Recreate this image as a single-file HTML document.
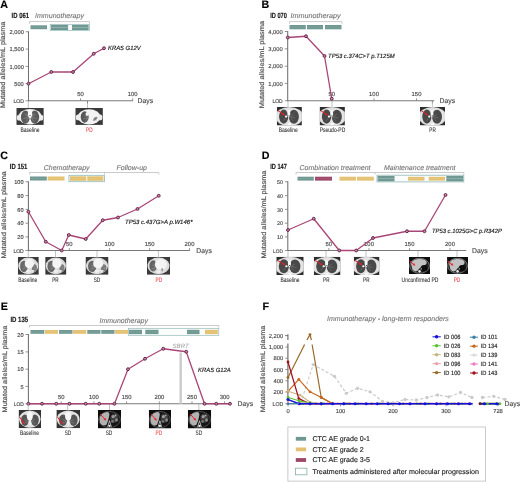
<!DOCTYPE html>
<html lang="en"><head><meta charset="utf-8"><title>Figure</title>
<style>
html,body{margin:0;padding:0;background:#fff;}
body{width:520px;height:482px;overflow:hidden;font-family:"Liberation Sans",sans-serif;}
svg{display:block;}
text{text-rendering:geometricPrecision;}
</style></head><body>
<svg width="520" height="482" viewBox="0 0 520 482" font-family="&quot;Liberation Sans&quot;, sans-serif">
<defs><filter id="bl" x="-10%" y="-10%" width="120%" height="120%"><feGaussianBlur stdDeviation="1.6 2.2"/></filter></defs>
<rect width="520" height="482" fill="#fff"/>
<text x="0.3" y="8.299999999999999" font-size="10.7" fill="#000" font-weight="bold" stroke="#000" stroke-width="0.14">A</text>
<text x="11.5" y="18.1" font-size="7.6" fill="#151515" font-weight="bold" textLength="17.6" lengthAdjust="spacingAndGlyphs" stroke="#151515" stroke-width="0.14">ID 061</text>
<text x="35" y="18" font-size="7.0" fill="#7a7a7a" font-style="italic" textLength="49" lengthAdjust="spacingAndGlyphs" stroke="#7a7a7a" stroke-width="0.14">Immunotherapy</text>
<path d="M29.5 23.8V21.6H89.5V23.8" fill="none" stroke="#b4b4b4" stroke-width="0.7"/>
<rect x="30.50" y="25.30" width="16.50" height="3.90" fill="#6f9892" />
<line x1="30.90" y1="27.25" x2="46.60" y2="27.25" stroke="#fff" stroke-opacity="0.28" stroke-width="0.6" stroke-dasharray="1 0.6"/>
<rect x="50.20" y="24.30" width="39.20" height="6.30" fill="#fbfdfd" stroke="#8fb8b4" stroke-width="0.7" />
<rect x="51.00" y="24.90" width="17.10" height="5.10" fill="#6f9892" />
<line x1="51.40" y1="27.45" x2="67.70" y2="27.45" stroke="#fff" stroke-opacity="0.28" stroke-width="0.6" stroke-dasharray="1 0.6"/>
<rect x="72.00" y="24.90" width="16.60" height="5.10" fill="#6f9892" />
<line x1="72.40" y1="27.45" x2="88.20" y2="27.45" stroke="#fff" stroke-opacity="0.28" stroke-width="0.6" stroke-dasharray="1 0.6"/>
<line x1="51" y1="27.4" x2="68.1" y2="27.4" stroke="#a9c6c2" stroke-width="0.5" />
<line x1="72" y1="27.4" x2="88.6" y2="27.4" stroke="#a9c6c2" stroke-width="0.5" />
<text x="5.4" y="64.8" font-size="6.7" fill="#555" text-anchor="middle" textLength="86.2" lengthAdjust="spacingAndGlyphs" transform="rotate(-90 5.4 64.8)" stroke="#555" stroke-width="0.2">Mutated alleles/mL plasma</text>
<line x1="28.5" y1="31.35" x2="28.5" y2="101.25" stroke="#6e6e6e" stroke-width="1.05" />
<line x1="25.6" y1="31.75" x2="28.5" y2="31.75" stroke="#787878" stroke-width="0.8" />
<text x="23.8" y="33.85" font-size="5.7" fill="#474747" text-anchor="end" stroke="#474747" stroke-width="0.14">2,000</text>
<line x1="25.6" y1="49.1" x2="28.5" y2="49.1" stroke="#787878" stroke-width="0.8" />
<text x="23.8" y="51.2" font-size="5.7" fill="#474747" text-anchor="end" stroke="#474747" stroke-width="0.14">1,500</text>
<line x1="25.6" y1="66.4" x2="28.5" y2="66.4" stroke="#787878" stroke-width="0.8" />
<text x="23.8" y="68.5" font-size="5.7" fill="#474747" text-anchor="end" stroke="#474747" stroke-width="0.14">1,000</text>
<line x1="25.6" y1="83.6" x2="28.5" y2="83.6" stroke="#787878" stroke-width="0.8" />
<text x="23.8" y="85.69999999999999" font-size="5.7" fill="#474747" text-anchor="end" stroke="#474747" stroke-width="0.14">500</text>
<line x1="25.6" y1="100.75" x2="28.5" y2="100.75" stroke="#787878" stroke-width="0.8" />
<text x="23.8" y="102.75" font-size="5.4" fill="#474747" text-anchor="end" textLength="10.2" lengthAdjust="spacingAndGlyphs" stroke="#474747" stroke-width="0.14">LOD</text>
<line x1="28.0" y1="100.75" x2="133" y2="100.75" stroke="#787878" stroke-width="1.1" />
<line x1="80.5" y1="98.35" x2="80.5" y2="100.75" stroke="#787878" stroke-width="0.8" />
<text x="80.5" y="95.95" font-size="5.9" fill="#474747" text-anchor="middle" stroke="#474747" stroke-width="0.14">50</text>
<line x1="132.7" y1="98.35" x2="132.7" y2="100.75" stroke="#787878" stroke-width="0.8" />
<text x="132.7" y="95.95" font-size="5.9" fill="#474747" text-anchor="middle" stroke="#474747" stroke-width="0.14">100</text>
<text x="137.5" y="103" font-size="7.0" fill="#4c4c4c" textLength="15.6" lengthAdjust="spacingAndGlyphs" stroke="#4c4c4c" stroke-width="0.14">Days</text>
<polyline points="28.5,83.75 51.25,72 73,72 93.75,53.75 104,48.25" fill="none" stroke="#aa4577" stroke-width="1.3" stroke-linejoin="round"/>
<circle cx="28.5" cy="83.75" r="1.45" fill="#b98fa6" stroke="#6e1d4a" stroke-width="0.95"/>
<circle cx="51.25" cy="72" r="1.45" fill="#b98fa6" stroke="#6e1d4a" stroke-width="0.95"/>
<circle cx="73" cy="72" r="1.45" fill="#b98fa6" stroke="#6e1d4a" stroke-width="0.95"/>
<circle cx="93.75" cy="53.75" r="1.45" fill="#b98fa6" stroke="#6e1d4a" stroke-width="0.95"/>
<circle cx="104" cy="48.25" r="1.45" fill="#b98fa6" stroke="#6e1d4a" stroke-width="0.95"/>
<text x="108" y="50.4" font-size="6.15" fill="#141414" font-style="italic" textLength="32.6" lengthAdjust="spacingAndGlyphs" stroke="#141414" stroke-width="0.14">KRAS G12V</text>
<line x1="28.3" y1="101" x2="28.3" y2="108" stroke="#9a9a9a" stroke-width="0.6" />
<line x1="87.5" y1="101" x2="87.5" y2="108" stroke="#9a9a9a" stroke-width="0.6" />
<line x1="87.5" y1="100.75" x2="87.5" y2="103.5" stroke="#787878" stroke-width="0.8" />
<svg x="16.30" y="108.00" width="27.50" height="16.90" viewBox="0 0 100 100" preserveAspectRatio="none" overflow="hidden"><rect width="100" height="100" fill="#3a3a3a"/><g filter="url(#bl)"><ellipse cx="50" cy="52" rx="42" ry="46" fill="#f3f3f3" /><ellipse cx="10" cy="57" rx="8" ry="17" fill="#ededed" /><ellipse cx="90" cy="57" rx="8" ry="17" fill="#ededed" /><ellipse cx="33" cy="54" rx="16" ry="39" fill="#5a5a5a" /><ellipse cx="67" cy="54" rx="16" ry="39" fill="#5a5a5a" /><ellipse cx="50" cy="36" rx="7.5" ry="24" fill="#fbfbfb" /><ellipse cx="50" cy="82" rx="4" ry="12" fill="#f3f3f3" /><path d="M44 50L32 38M44 56L28 62M45 60L36 80M56 50L68 38M56 56L72 62M55 60L64 80M40 48L40 30M60 48L60 30" stroke="#a2a2a2" stroke-width="2.2" fill="none" stroke-linecap="round"/><ellipse cx="50" cy="45" rx="2" ry="3" fill="#222" /></g></svg>
<svg x="75.30" y="108.00" width="27.60" height="16.90" viewBox="0 0 100 100" preserveAspectRatio="none" overflow="hidden"><rect width="100" height="100" fill="#3a3a3a"/><g filter="url(#bl)"><ellipse cx="50" cy="52" rx="41" ry="45" fill="#f3f3f3" /><ellipse cx="10" cy="56" rx="8" ry="17" fill="#ededed" /><ellipse cx="90" cy="56" rx="8" ry="17" fill="#ededed" /><ellipse cx="34" cy="53" rx="14.5" ry="34" fill="#565656" /><ellipse cx="43" cy="36" rx="6" ry="12" fill="#f0f0f0" /><path d="M44 54L34 46M44 58L30 64M44 60L38 78" stroke="#9c9c9c" stroke-width="2.2" fill="none" stroke-linecap="round"/><ellipse cx="72" cy="64" rx="5.5" ry="13" fill="#8a8a8a" transform="rotate(28 72 64)"/><path d="M70 56L75 72" stroke="#666" stroke-width="2" fill="none" stroke-linecap="round"/></g></svg>
<text x="30" y="132.3" font-size="6.5" fill="#222" text-anchor="middle" textLength="19" lengthAdjust="spacingAndGlyphs" stroke="#222" stroke-width="0.05">Baseline</text>
<text x="89.3" y="132.3" font-size="6.5" fill="#e23a3f" text-anchor="middle" textLength="6.5" lengthAdjust="spacingAndGlyphs" stroke="#e23a3f" stroke-width="0.05">PD</text>
<text x="261.4" y="8.299999999999999" font-size="10.7" fill="#000" font-weight="bold" stroke="#000" stroke-width="0.14">B</text>
<text x="270.2" y="17.900000000000002" font-size="7.6" fill="#151515" font-weight="bold" textLength="16.7" lengthAdjust="spacingAndGlyphs" stroke="#151515" stroke-width="0.14">ID 070</text>
<text x="290.5" y="18" font-size="7.0" fill="#7a7a7a" font-style="italic" textLength="50" lengthAdjust="spacingAndGlyphs" stroke="#7a7a7a" stroke-width="0.14">Immunotherapy</text>
<path d="M289.5 23.8V21.6H342V23.8" fill="none" stroke="#b4b4b4" stroke-width="0.7"/>
<rect x="289.50" y="25.00" width="16.30" height="4.30" fill="#6f9892" />
<line x1="289.90" y1="27.15" x2="305.40" y2="27.15" stroke="#fff" stroke-opacity="0.28" stroke-width="0.6" stroke-dasharray="1 0.6"/>
<rect x="307.00" y="25.00" width="16.00" height="4.30" fill="#6f9892" />
<line x1="307.40" y1="27.15" x2="322.60" y2="27.15" stroke="#fff" stroke-opacity="0.28" stroke-width="0.6" stroke-dasharray="1 0.6"/>
<rect x="325.00" y="25.00" width="16.50" height="4.30" fill="#6f9892" />
<line x1="325.40" y1="27.15" x2="341.10" y2="27.15" stroke="#fff" stroke-opacity="0.28" stroke-width="0.6" stroke-dasharray="1 0.6"/>
<text x="264.5" y="64.6" font-size="6.7" fill="#555" text-anchor="middle" textLength="87.2" lengthAdjust="spacingAndGlyphs" transform="rotate(-90 264.5 64.6)" stroke="#555" stroke-width="0.2">Mutated alleles/mL plasma</text>
<line x1="287.7" y1="31.1" x2="287.7" y2="101.25" stroke="#6e6e6e" stroke-width="1.05" />
<line x1="284.8" y1="31.5" x2="287.7" y2="31.5" stroke="#787878" stroke-width="0.8" />
<text x="282.7" y="33.6" font-size="5.8" fill="#474747" text-anchor="end" stroke="#474747" stroke-width="0.14">4,000</text>
<line x1="284.8" y1="48.8" x2="287.7" y2="48.8" stroke="#787878" stroke-width="0.8" />
<text x="282.7" y="50.9" font-size="5.8" fill="#474747" text-anchor="end" stroke="#474747" stroke-width="0.14">3,000</text>
<line x1="284.8" y1="66.2" x2="287.7" y2="66.2" stroke="#787878" stroke-width="0.8" />
<text x="282.7" y="68.3" font-size="5.8" fill="#474747" text-anchor="end" stroke="#474747" stroke-width="0.14">2,000</text>
<line x1="284.8" y1="83.4" x2="287.7" y2="83.4" stroke="#787878" stroke-width="0.8" />
<text x="282.7" y="85.5" font-size="5.8" fill="#474747" text-anchor="end" stroke="#474747" stroke-width="0.14">1,000</text>
<line x1="284.8" y1="100.75" x2="287.7" y2="100.75" stroke="#787878" stroke-width="0.8" />
<text x="282.7" y="102.75" font-size="5.5" fill="#474747" text-anchor="end" textLength="10.2" lengthAdjust="spacingAndGlyphs" stroke="#474747" stroke-width="0.14">LOD</text>
<line x1="287.5" y1="100.75" x2="434.3" y2="100.75" stroke="#787878" stroke-width="1.1" />
<line x1="331.75" y1="98.35" x2="331.75" y2="100.75" stroke="#787878" stroke-width="0.8" />
<text x="331.75" y="95.95" font-size="5.9" fill="#474747" text-anchor="middle" stroke="#474747" stroke-width="0.14">50</text>
<line x1="374" y1="98.35" x2="374" y2="100.75" stroke="#787878" stroke-width="0.8" />
<text x="374" y="95.95" font-size="5.9" fill="#474747" text-anchor="middle" stroke="#474747" stroke-width="0.14">100</text>
<line x1="416.5" y1="98.35" x2="416.5" y2="100.75" stroke="#787878" stroke-width="0.8" />
<text x="416.5" y="95.95" font-size="5.9" fill="#474747" text-anchor="middle" stroke="#474747" stroke-width="0.14">150</text>
<line x1="432.4" y1="100.75" x2="432.4" y2="103.4" stroke="#787878" stroke-width="0.8" />
<text x="439.5" y="103" font-size="7.0" fill="#4c4c4c" textLength="15.6" lengthAdjust="spacingAndGlyphs" stroke="#4c4c4c" stroke-width="0.14">Days</text>
<polyline points="287.8,37.5 306,36.25 324.5,56 331.75,98.75" fill="none" stroke="#aa4577" stroke-width="1.3" stroke-linejoin="round"/>
<circle cx="287.8" cy="37.5" r="1.45" fill="#b98fa6" stroke="#6e1d4a" stroke-width="0.95"/>
<circle cx="306" cy="36.25" r="1.45" fill="#b98fa6" stroke="#6e1d4a" stroke-width="0.95"/>
<circle cx="324.5" cy="56" r="1.45" fill="#b98fa6" stroke="#6e1d4a" stroke-width="0.95"/>
<circle cx="331.75" cy="98.75" r="1.45" fill="#b98fa6" stroke="#6e1d4a" stroke-width="0.95"/>
<text x="328.1" y="58.0" font-size="6.15" fill="#141414" font-style="italic" textLength="66.5" lengthAdjust="spacingAndGlyphs" stroke="#141414" stroke-width="0.14">TP53 c.374C&gt;T p.T125M</text>
<line x1="288" y1="101" x2="288" y2="107" stroke="#9a9a9a" stroke-width="0.6" />
<line x1="332" y1="101" x2="332" y2="107" stroke="#9a9a9a" stroke-width="0.6" />
<line x1="432.4" y1="101" x2="432.4" y2="107" stroke="#9a9a9a" stroke-width="0.6" />
<svg x="276.80" y="107.00" width="25.10" height="18.50" viewBox="0 0 100 100" preserveAspectRatio="none" overflow="hidden"><rect width="100" height="100" fill="#2e2e2e"/><g filter="url(#bl)"><ellipse cx="50" cy="52" rx="56" ry="52" fill="#dadada" /><ellipse cx="50" cy="52" rx="50" ry="47" fill="#e4e4e4" /><ellipse cx="27.5" cy="52" rx="18.5" ry="38" fill="#4a4a4a" /><ellipse cx="68" cy="53" rx="20" ry="38" fill="#4a4a4a" /><ellipse cx="48" cy="36" rx="5.5" ry="20" fill="#f8f8f8" /><ellipse cx="37" cy="52" rx="4.5" ry="6" fill="#fcfcfc" /><ellipse cx="49" cy="48" rx="2.2" ry="3" fill="#1a1a1a" /><ellipse cx="50" cy="93" rx="7" ry="6" fill="#fafafa" /><path d="M56 50L66 42M56 54L72 58M55 58L64 74M34 60L28 72" stroke="#858585" stroke-width="2" fill="none" stroke-linecap="round"/></g></svg>
<path d="M278.06 110.70L283.10 114.15" stroke="#ee1c25" stroke-width="1.0" fill="none"/>
<path d="M285.08 115.51L282.12 115.06L283.59 112.91z" fill="#ee1c25"/>
<svg x="319.60" y="107.00" width="25.30" height="18.50" viewBox="0 0 100 100" preserveAspectRatio="none" overflow="hidden"><rect width="100" height="100" fill="#2e2e2e"/><g filter="url(#bl)"><ellipse cx="50" cy="52" rx="56" ry="52" fill="#dadada" /><ellipse cx="50" cy="52" rx="50" ry="47" fill="#e4e4e4" /><ellipse cx="27.5" cy="52" rx="18.5" ry="38" fill="#4a4a4a" /><ellipse cx="68" cy="53" rx="20" ry="38" fill="#4a4a4a" /><ellipse cx="48" cy="36" rx="5.5" ry="20" fill="#f8f8f8" /><ellipse cx="37" cy="52" rx="4.5" ry="6" fill="#fcfcfc" /><ellipse cx="49" cy="48" rx="2.2" ry="3" fill="#1a1a1a" /><ellipse cx="50" cy="93" rx="7" ry="6" fill="#fafafa" /><path d="M56 50L66 42M56 54L72 58M55 58L64 74M34 60L28 72" stroke="#858585" stroke-width="2" fill="none" stroke-linecap="round"/></g></svg>
<path d="M320.87 110.70L325.96 114.16" stroke="#ee1c25" stroke-width="1.0" fill="none"/>
<path d="M327.95 115.51L324.98 115.07L326.45 112.92z" fill="#ee1c25"/>
<svg x="420.00" y="107.00" width="25.00" height="18.50" viewBox="0 0 100 100" preserveAspectRatio="none" overflow="hidden"><rect width="100" height="100" fill="#2e2e2e"/><g filter="url(#bl)"><ellipse cx="50" cy="52" rx="56" ry="52" fill="#dadada" /><ellipse cx="50" cy="52" rx="50" ry="47" fill="#e4e4e4" /><ellipse cx="27.5" cy="52" rx="18.5" ry="38" fill="#4a4a4a" /><ellipse cx="68" cy="53" rx="20" ry="38" fill="#4a4a4a" /><ellipse cx="48" cy="36" rx="5.5" ry="20" fill="#f8f8f8" /><ellipse cx="37" cy="52" rx="4.5" ry="6" fill="#fcfcfc" /><ellipse cx="49" cy="48" rx="2.2" ry="3" fill="#1a1a1a" /><ellipse cx="50" cy="93" rx="7" ry="6" fill="#fafafa" /><path d="M56 50L66 42M56 54L72 58M55 58L64 74M34 60L28 72" stroke="#858585" stroke-width="2" fill="none" stroke-linecap="round"/></g></svg>
<path d="M421.25 110.70L426.27 114.15" stroke="#ee1c25" stroke-width="1.0" fill="none"/>
<path d="M428.25 115.51L425.29 115.05L426.76 112.91z" fill="#ee1c25"/>
<text x="288.3" y="132.3" font-size="6.5" fill="#222" text-anchor="middle" textLength="19" lengthAdjust="spacingAndGlyphs" stroke="#222" stroke-width="0.05">Baseline</text>
<text x="332.5" y="132.3" font-size="6.5" fill="#222" text-anchor="middle" textLength="25.5" lengthAdjust="spacingAndGlyphs" stroke="#222" stroke-width="0.05">Pseudo-PD</text>
<text x="432.6" y="132.3" font-size="6.5" fill="#222" text-anchor="middle" textLength="6.5" lengthAdjust="spacingAndGlyphs" stroke="#222" stroke-width="0.05">PR</text>
<text x="0.3" y="159.0" font-size="10.7" fill="#000" font-weight="bold" stroke="#000" stroke-width="0.14">C</text>
<text x="9.799999999999999" y="169.29999999999998" font-size="7.6" fill="#151515" font-weight="bold" textLength="17.6" lengthAdjust="spacingAndGlyphs" stroke="#151515" stroke-width="0.14">ID 151</text>
<text x="43.8" y="169.5" font-size="7.0" fill="#7a7a7a" font-style="italic" textLength="45.7" lengthAdjust="spacingAndGlyphs" stroke="#7a7a7a" stroke-width="0.14">Chemotherapy</text>
<text x="116.5" y="169.5" font-size="7.0" fill="#7a7a7a" font-style="italic" textLength="30.5" lengthAdjust="spacingAndGlyphs" stroke="#7a7a7a" stroke-width="0.14">Follow-up</text>
<path d="M29.5 174.5V172.5H158.8V174.5M104.5 172.5V174.5" fill="none" stroke="#b4b4b4" stroke-width="0.7"/>
<rect x="30.00" y="176.50" width="16.80" height="4.00" fill="#6f9892" />
<line x1="30.40" y1="178.50" x2="46.40" y2="178.50" stroke="#fff" stroke-opacity="0.28" stroke-width="0.6" stroke-dasharray="1 0.6"/>
<rect x="47.60" y="176.50" width="16.90" height="4.00" fill="#e3c170" />
<line x1="48.00" y1="178.50" x2="64.10" y2="178.50" stroke="#fff" stroke-opacity="0.28" stroke-width="0.6" stroke-dasharray="1 0.6"/>
<rect x="68.90" y="175.30" width="35.60" height="6.40" fill="#fbfdfd" stroke="#8fb8b4" stroke-width="0.8" />
<rect x="70.00" y="176.30" width="16.30" height="4.50" fill="#e3c170" />
<line x1="70.40" y1="178.55" x2="85.90" y2="178.55" stroke="#fff" stroke-opacity="0.28" stroke-width="0.6" stroke-dasharray="1 0.6"/>
<rect x="87.30" y="176.30" width="16.10" height="4.50" fill="#e3c170" />
<line x1="87.70" y1="178.55" x2="103.00" y2="178.55" stroke="#fff" stroke-opacity="0.28" stroke-width="0.6" stroke-dasharray="1 0.6"/>
<text x="5.8" y="215" font-size="6.7" fill="#555" text-anchor="middle" textLength="87.2" lengthAdjust="spacingAndGlyphs" transform="rotate(-90 5.8 215)" stroke="#555" stroke-width="0.2">Mutated alleles/mL plasma</text>
<line x1="28.4" y1="181.35" x2="28.4" y2="251.0" stroke="#6e6e6e" stroke-width="1.05" />
<line x1="25.5" y1="181.75" x2="28.4" y2="181.75" stroke="#787878" stroke-width="0.8" />
<text x="23.599999999999998" y="183.85" font-size="5.6" fill="#474747" text-anchor="end" stroke="#474747" stroke-width="0.14">100</text>
<line x1="25.5" y1="195.6" x2="28.4" y2="195.6" stroke="#787878" stroke-width="0.8" />
<text x="23.599999999999998" y="197.7" font-size="5.6" fill="#474747" text-anchor="end" stroke="#474747" stroke-width="0.14">80</text>
<line x1="25.5" y1="209.4" x2="28.4" y2="209.4" stroke="#787878" stroke-width="0.8" />
<text x="23.599999999999998" y="211.5" font-size="5.6" fill="#474747" text-anchor="end" stroke="#474747" stroke-width="0.14">60</text>
<line x1="25.5" y1="223.2" x2="28.4" y2="223.2" stroke="#787878" stroke-width="0.8" />
<text x="23.599999999999998" y="225.29999999999998" font-size="5.6" fill="#474747" text-anchor="end" stroke="#474747" stroke-width="0.14">40</text>
<line x1="25.5" y1="236.9" x2="28.4" y2="236.9" stroke="#787878" stroke-width="0.8" />
<text x="23.599999999999998" y="239.0" font-size="5.6" fill="#474747" text-anchor="end" stroke="#474747" stroke-width="0.14">20</text>
<line x1="25.5" y1="250.5" x2="28.4" y2="250.5" stroke="#787878" stroke-width="0.8" />
<text x="23.599999999999998" y="252.5" font-size="5.3" fill="#474747" text-anchor="end" textLength="10.2" lengthAdjust="spacingAndGlyphs" stroke="#474747" stroke-width="0.14">LOD</text>
<line x1="27.9" y1="250.5" x2="189.8" y2="250.5" stroke="#787878" stroke-width="1.1" />
<line x1="69.3" y1="248.1" x2="69.3" y2="250.5" stroke="#787878" stroke-width="0.8" />
<text x="69.3" y="245.7" font-size="5.9" fill="#474747" text-anchor="middle" stroke="#474747" stroke-width="0.14">50</text>
<line x1="109.5" y1="248.1" x2="109.5" y2="250.5" stroke="#787878" stroke-width="0.8" />
<text x="109.5" y="245.7" font-size="5.9" fill="#474747" text-anchor="middle" stroke="#474747" stroke-width="0.14">100</text>
<line x1="149.6" y1="248.1" x2="149.6" y2="250.5" stroke="#787878" stroke-width="0.8" />
<text x="149.6" y="245.7" font-size="5.9" fill="#474747" text-anchor="middle" stroke="#474747" stroke-width="0.14">150</text>
<line x1="189.5" y1="248.1" x2="189.5" y2="250.5" stroke="#787878" stroke-width="0.8" />
<text x="189.5" y="245.7" font-size="5.9" fill="#474747" text-anchor="middle" stroke="#474747" stroke-width="0.14">200</text>
<text x="196.3" y="252.7" font-size="7.0" fill="#4c4c4c" textLength="15.6" lengthAdjust="spacingAndGlyphs" stroke="#4c4c4c" stroke-width="0.14">Days</text>
<polyline points="28.4,211.75 45.75,241.75 61.75,250.5 68.75,235 85.75,239 102.75,220.25 118,217.5 137.5,209 158.75,195.75" fill="none" stroke="#aa4577" stroke-width="1.3" stroke-linejoin="round"/>
<circle cx="28.4" cy="211.75" r="1.45" fill="#b98fa6" stroke="#6e1d4a" stroke-width="0.95"/>
<circle cx="45.75" cy="241.75" r="1.45" fill="#b98fa6" stroke="#6e1d4a" stroke-width="0.95"/>
<circle cx="61.75" cy="250.5" r="1.45" fill="#b98fa6" stroke="#6e1d4a" stroke-width="0.95"/>
<circle cx="68.75" cy="235" r="1.45" fill="#b98fa6" stroke="#6e1d4a" stroke-width="0.95"/>
<circle cx="85.75" cy="239" r="1.45" fill="#b98fa6" stroke="#6e1d4a" stroke-width="0.95"/>
<circle cx="102.75" cy="220.25" r="1.45" fill="#b98fa6" stroke="#6e1d4a" stroke-width="0.95"/>
<circle cx="118" cy="217.5" r="1.45" fill="#b98fa6" stroke="#6e1d4a" stroke-width="0.95"/>
<circle cx="137.5" cy="209" r="1.45" fill="#b98fa6" stroke="#6e1d4a" stroke-width="0.95"/>
<circle cx="158.75" cy="195.75" r="1.45" fill="#b98fa6" stroke="#6e1d4a" stroke-width="0.95"/>
<text x="125" y="224" font-size="6.15" fill="#141414" font-style="italic" textLength="67.5" lengthAdjust="spacingAndGlyphs" stroke="#141414" stroke-width="0.14">TP53 c.437G&gt;A p.W146*</text>
<line x1="28.3" y1="251" x2="28.3" y2="257" stroke="#9a9a9a" stroke-width="0.6" />
<line x1="55.5" y1="251" x2="55.5" y2="257" stroke="#9a9a9a" stroke-width="0.6" />
<line x1="97" y1="251" x2="97" y2="257" stroke="#9a9a9a" stroke-width="0.6" />
<line x1="158.4" y1="251" x2="158.4" y2="257" stroke="#9a9a9a" stroke-width="0.6" />
<svg x="17.80" y="256.90" width="21.00" height="17.90" viewBox="0 0 100 100" preserveAspectRatio="none" overflow="hidden"><rect width="100" height="100" fill="#3a3a3a"/><g filter="url(#bl)"><ellipse cx="50" cy="50" rx="48" ry="47" fill="#dcdcdc" /><ellipse cx="29" cy="53" rx="18" ry="32" fill="#686868" /><ellipse cx="79" cy="62" rx="12" ry="21" fill="#7a7a7a" /><ellipse cx="55" cy="38" rx="22" ry="27" fill="#f4f4f4" /><ellipse cx="50" cy="80" rx="10" ry="9" fill="#f0f0f0" /><ellipse cx="72" cy="78" rx="7" ry="5" fill="#efefef" /><path d="M38 56L26 50M38 62L24 68M80 56L84 70" stroke="#a5a5a5" stroke-width="2.2" fill="none" stroke-linecap="round"/></g></svg>
<svg x="45.20" y="256.90" width="21.20" height="17.90" viewBox="0 0 100 100" preserveAspectRatio="none" overflow="hidden"><rect width="100" height="100" fill="#3a3a3a"/><g filter="url(#bl)"><ellipse cx="50" cy="50" rx="48" ry="47" fill="#dcdcdc" /><ellipse cx="29" cy="53" rx="18" ry="32" fill="#686868" /><ellipse cx="79" cy="62" rx="12" ry="21" fill="#7a7a7a" /><ellipse cx="55" cy="38" rx="22" ry="27" fill="#f4f4f4" /><ellipse cx="50" cy="80" rx="10" ry="9" fill="#f0f0f0" /><ellipse cx="72" cy="78" rx="7" ry="5" fill="#efefef" /><path d="M38 56L26 50M38 62L24 68M80 56L84 70" stroke="#a5a5a5" stroke-width="2.2" fill="none" stroke-linecap="round"/></g></svg>
<svg x="85.50" y="256.90" width="23.00" height="17.90" viewBox="0 0 100 100" preserveAspectRatio="none" overflow="hidden"><rect width="100" height="100" fill="#3a3a3a"/><g filter="url(#bl)"><ellipse cx="50" cy="50" rx="48" ry="47" fill="#dcdcdc" /><ellipse cx="29" cy="53" rx="18" ry="32" fill="#686868" /><ellipse cx="79" cy="62" rx="12" ry="21" fill="#7a7a7a" /><ellipse cx="55" cy="38" rx="22" ry="27" fill="#f4f4f4" /><ellipse cx="50" cy="80" rx="10" ry="9" fill="#f0f0f0" /><ellipse cx="72" cy="78" rx="7" ry="5" fill="#efefef" /><path d="M38 56L26 50M38 62L24 68M80 56L84 70" stroke="#a5a5a5" stroke-width="2.2" fill="none" stroke-linecap="round"/></g></svg>
<svg x="147.00" y="256.90" width="23.00" height="17.90" viewBox="0 0 100 100" preserveAspectRatio="none" overflow="hidden"><rect width="100" height="100" fill="#3a3a3a"/><g filter="url(#bl)"><ellipse cx="50" cy="50" rx="48" ry="47" fill="#dedede" /><ellipse cx="27" cy="50" rx="17" ry="31" fill="#646464" /><ellipse cx="60" cy="42" rx="26" ry="30" fill="#f4f4f4" /><ellipse cx="66" cy="72" rx="4" ry="10" fill="#999" /><ellipse cx="50" cy="82" rx="9" ry="8" fill="#f0f0f0" /><path d="M36 54L24 46M36 60L22 66M34 64L28 76" stroke="#a0a0a0" stroke-width="2.2" fill="none" stroke-linecap="round"/></g></svg>
<text x="27.8" y="281.7" font-size="6.5" fill="#222" text-anchor="middle" textLength="19" lengthAdjust="spacingAndGlyphs" stroke="#222" stroke-width="0.05">Baseline</text>
<text x="55.5" y="281.7" font-size="6.5" fill="#222" text-anchor="middle" textLength="6.5" lengthAdjust="spacingAndGlyphs" stroke="#222" stroke-width="0.05">PR</text>
<text x="97" y="281.7" font-size="6.5" fill="#222" text-anchor="middle" textLength="6.5" lengthAdjust="spacingAndGlyphs" stroke="#222" stroke-width="0.05">SD</text>
<text x="158.8" y="281.7" font-size="6.5" fill="#e23a3f" text-anchor="middle" textLength="6.5" lengthAdjust="spacingAndGlyphs" stroke="#e23a3f" stroke-width="0.05">PD</text>
<text x="261.7" y="158.79999999999998" font-size="10.7" fill="#000" font-weight="bold" stroke="#000" stroke-width="0.14">D</text>
<text x="270.2" y="169.29999999999998" font-size="7.6" fill="#151515" font-weight="bold" textLength="16.7" lengthAdjust="spacingAndGlyphs" stroke="#151515" stroke-width="0.14">ID 147</text>
<text x="299.5" y="169.5" font-size="7.0" fill="#7a7a7a" font-style="italic" textLength="71" lengthAdjust="spacingAndGlyphs" stroke="#7a7a7a" stroke-width="0.14">Combination treatment</text>
<text x="384" y="169.5" font-size="7.0" fill="#7a7a7a" font-style="italic" textLength="71.5" lengthAdjust="spacingAndGlyphs" stroke="#7a7a7a" stroke-width="0.14">Maintenance treatment</text>
<path d="M296 174.5V172.5H463.8V174.5M375 172.5V174.5" fill="none" stroke="#b4b4b4" stroke-width="0.7"/>
<rect x="297.50" y="176.70" width="16.30" height="3.90" fill="#6f9892" />
<line x1="297.90" y1="178.65" x2="313.40" y2="178.65" stroke="#fff" stroke-opacity="0.28" stroke-width="0.6" stroke-dasharray="1 0.6"/>
<rect x="315.00" y="176.70" width="17.00" height="3.90" fill="#9d4667" />
<line x1="315.40" y1="178.65" x2="331.60" y2="178.65" stroke="#fff" stroke-opacity="0.28" stroke-width="0.6" stroke-dasharray="1 0.6"/>
<rect x="339.50" y="176.70" width="16.50" height="3.90" fill="#e3c170" />
<line x1="339.90" y1="178.65" x2="355.60" y2="178.65" stroke="#fff" stroke-opacity="0.28" stroke-width="0.6" stroke-dasharray="1 0.6"/>
<rect x="357.00" y="176.70" width="16.80" height="3.90" fill="#e3c170" />
<line x1="357.40" y1="178.65" x2="373.40" y2="178.65" stroke="#fff" stroke-opacity="0.28" stroke-width="0.6" stroke-dasharray="1 0.6"/>
<rect x="377.00" y="175.20" width="86.80" height="6.70" fill="#fbfdfd" stroke="#8fb8b4" stroke-width="0.8" />
<rect x="377.60" y="176.00" width="16.90" height="5.30" fill="#6f9892" />
<line x1="378.00" y1="178.65" x2="394.10" y2="178.65" stroke="#fff" stroke-opacity="0.28" stroke-width="0.6" stroke-dasharray="1 0.6"/>
<rect x="408.00" y="176.80" width="16.50" height="3.80" fill="#e3c170" />
<line x1="408.40" y1="178.70" x2="424.10" y2="178.70" stroke="#fff" stroke-opacity="0.28" stroke-width="0.6" stroke-dasharray="1 0.6"/>
<rect x="428.70" y="176.80" width="16.30" height="3.80" fill="#e3c170" />
<line x1="429.10" y1="178.70" x2="444.60" y2="178.70" stroke="#fff" stroke-opacity="0.28" stroke-width="0.6" stroke-dasharray="1 0.6"/>
<rect x="446.30" y="176.00" width="16.90" height="5.30" fill="#6f9892" />
<line x1="446.70" y1="178.65" x2="462.80" y2="178.65" stroke="#fff" stroke-opacity="0.28" stroke-width="0.6" stroke-dasharray="1 0.6"/>
<line x1="377.6" y1="178.6" x2="394.5" y2="178.6" stroke="#a5c4bf" stroke-width="0.5" />
<line x1="446.3" y1="178.6" x2="463.2" y2="178.6" stroke="#a5c4bf" stroke-width="0.5" />
<text x="266.2" y="214.5" font-size="6.7" fill="#555" text-anchor="middle" textLength="88" lengthAdjust="spacingAndGlyphs" transform="rotate(-90 266.2 214.5)" stroke="#555" stroke-width="0.2">Mutated alleles/mL plasma</text>
<line x1="287.8" y1="181.35" x2="287.8" y2="251.0" stroke="#6e6e6e" stroke-width="1.05" />
<line x1="284.90000000000003" y1="181.75" x2="287.8" y2="181.75" stroke="#787878" stroke-width="0.8" />
<text x="282.90000000000003" y="183.85" font-size="5.4" fill="#474747" text-anchor="end" stroke="#474747" stroke-width="0.14">50</text>
<line x1="284.90000000000003" y1="195.6" x2="287.8" y2="195.6" stroke="#787878" stroke-width="0.8" />
<text x="282.90000000000003" y="197.7" font-size="5.4" fill="#474747" text-anchor="end" stroke="#474747" stroke-width="0.14">40</text>
<line x1="284.90000000000003" y1="209.4" x2="287.8" y2="209.4" stroke="#787878" stroke-width="0.8" />
<text x="282.90000000000003" y="211.5" font-size="5.4" fill="#474747" text-anchor="end" stroke="#474747" stroke-width="0.14">30</text>
<line x1="284.90000000000003" y1="223.2" x2="287.8" y2="223.2" stroke="#787878" stroke-width="0.8" />
<text x="282.90000000000003" y="225.29999999999998" font-size="5.4" fill="#474747" text-anchor="end" stroke="#474747" stroke-width="0.14">20</text>
<line x1="284.90000000000003" y1="236.9" x2="287.8" y2="236.9" stroke="#787878" stroke-width="0.8" />
<text x="282.90000000000003" y="239.0" font-size="5.4" fill="#474747" text-anchor="end" stroke="#474747" stroke-width="0.14">10</text>
<line x1="284.90000000000003" y1="250.5" x2="287.8" y2="250.5" stroke="#787878" stroke-width="0.8" />
<text x="282.90000000000003" y="252.5" font-size="5.1000000000000005" fill="#474747" text-anchor="end" textLength="9.8" lengthAdjust="spacingAndGlyphs" stroke="#474747" stroke-width="0.14">LOD</text>
<line x1="287.5" y1="250.5" x2="466.2" y2="250.5" stroke="#787878" stroke-width="1.1" />
<line x1="328.8" y1="248.1" x2="328.8" y2="250.5" stroke="#787878" stroke-width="0.8" />
<text x="328.8" y="245.7" font-size="5.9" fill="#474747" text-anchor="middle" stroke="#474747" stroke-width="0.14">50</text>
<line x1="369" y1="248.1" x2="369" y2="250.5" stroke="#787878" stroke-width="0.8" />
<text x="369" y="245.7" font-size="5.9" fill="#474747" text-anchor="middle" stroke="#474747" stroke-width="0.14">100</text>
<line x1="409.5" y1="248.1" x2="409.5" y2="250.5" stroke="#787878" stroke-width="0.8" />
<text x="409.5" y="245.7" font-size="5.9" fill="#474747" text-anchor="middle" stroke="#474747" stroke-width="0.14">150</text>
<line x1="450" y1="248.1" x2="450" y2="250.5" stroke="#787878" stroke-width="0.8" />
<text x="450" y="245.7" font-size="5.9" fill="#474747" text-anchor="middle" stroke="#474747" stroke-width="0.14">200</text>
<text x="472" y="252.7" font-size="7.0" fill="#4c4c4c" textLength="15.6" lengthAdjust="spacingAndGlyphs" stroke="#4c4c4c" stroke-width="0.14">Days</text>
<polyline points="288,230 313.75,218.75 339.25,250.5 356.25,250.5 373,238 407,231.25 424.5,231.25 445.5,195" fill="none" stroke="#aa4577" stroke-width="1.3" stroke-linejoin="round"/>
<circle cx="288" cy="230" r="1.45" fill="#b98fa6" stroke="#6e1d4a" stroke-width="0.95"/>
<circle cx="313.75" cy="218.75" r="1.45" fill="#b98fa6" stroke="#6e1d4a" stroke-width="0.95"/>
<circle cx="339.25" cy="250.5" r="1.45" fill="#b98fa6" stroke="#6e1d4a" stroke-width="0.95"/>
<circle cx="356.25" cy="250.5" r="1.45" fill="#b98fa6" stroke="#6e1d4a" stroke-width="0.95"/>
<circle cx="373" cy="238" r="1.45" fill="#b98fa6" stroke="#6e1d4a" stroke-width="0.95"/>
<circle cx="407" cy="231.25" r="1.45" fill="#b98fa6" stroke="#6e1d4a" stroke-width="0.95"/>
<circle cx="424.5" cy="231.25" r="1.45" fill="#b98fa6" stroke="#6e1d4a" stroke-width="0.95"/>
<circle cx="445.5" cy="195" r="1.45" fill="#b98fa6" stroke="#6e1d4a" stroke-width="0.95"/>
<text x="432" y="233" font-size="6.15" fill="#141414" font-style="italic" textLength="69.8" lengthAdjust="spacingAndGlyphs" stroke="#141414" stroke-width="0.14">TP53 c.1025G&gt;C p.R342P</text>
<line x1="288" y1="251" x2="288" y2="257" stroke="#9a9a9a" stroke-width="0.6" />
<line x1="326" y1="251" x2="326" y2="257" stroke="#9a9a9a" stroke-width="0.6" />
<line x1="366" y1="251" x2="366" y2="257" stroke="#9a9a9a" stroke-width="0.6" />
<line x1="418" y1="251" x2="418" y2="257" stroke="#9a9a9a" stroke-width="0.6" />
<line x1="457" y1="251" x2="457" y2="257" stroke="#9a9a9a" stroke-width="0.6" />
<svg x="276.30" y="256.80" width="27.40" height="18.20" viewBox="0 0 100 100" preserveAspectRatio="none" overflow="hidden"><rect width="100" height="100" fill="#2e2e2e"/><g filter="url(#bl)"><ellipse cx="50" cy="52" rx="56" ry="52" fill="#dadada" /><ellipse cx="50" cy="52" rx="50" ry="47" fill="#e4e4e4" /><ellipse cx="27.5" cy="52" rx="18.5" ry="38" fill="#4a4a4a" /><ellipse cx="68" cy="53" rx="20" ry="38" fill="#4a4a4a" /><ellipse cx="48" cy="36" rx="5.5" ry="20" fill="#f8f8f8" /><ellipse cx="37" cy="52" rx="4.5" ry="6" fill="#fcfcfc" /><ellipse cx="49" cy="48" rx="2.2" ry="3" fill="#1a1a1a" /><ellipse cx="50" cy="93" rx="7" ry="6" fill="#fafafa" /><path d="M56 50L66 42M56 54L72 58M55 58L64 74M34 60L28 72" stroke="#858585" stroke-width="2" fill="none" stroke-linecap="round"/></g></svg>
<path d="M277.67 260.44L283.30 263.91" stroke="#ee1c25" stroke-width="1.0" fill="none"/>
<path d="M285.34 265.17L282.36 264.86L283.73 262.65z" fill="#ee1c25"/>
<svg x="313.80" y="256.80" width="26.70" height="18.20" viewBox="0 0 100 100" preserveAspectRatio="none" overflow="hidden"><rect width="100" height="100" fill="#2e2e2e"/><g filter="url(#bl)"><ellipse cx="50" cy="52" rx="56" ry="52" fill="#dadada" /><ellipse cx="50" cy="52" rx="50" ry="47" fill="#e4e4e4" /><ellipse cx="27.5" cy="52" rx="18.5" ry="38" fill="#4a4a4a" /><ellipse cx="68" cy="53" rx="20" ry="38" fill="#4a4a4a" /><ellipse cx="48" cy="36" rx="5.5" ry="20" fill="#f8f8f8" /><ellipse cx="37" cy="52" rx="4.5" ry="6" fill="#fcfcfc" /><ellipse cx="49" cy="48" rx="2.2" ry="3" fill="#1a1a1a" /><ellipse cx="50" cy="93" rx="7" ry="6" fill="#fafafa" /><path d="M56 50L66 42M56 54L72 58M55 58L64 74M34 60L28 72" stroke="#858585" stroke-width="2" fill="none" stroke-linecap="round"/></g></svg>
<path d="M315.13 260.44L320.58 263.89" stroke="#ee1c25" stroke-width="1.0" fill="none"/>
<path d="M322.61 265.17L319.63 264.83L321.02 262.63z" fill="#ee1c25"/>
<svg x="353.80" y="256.80" width="25.70" height="18.20" viewBox="0 0 100 100" preserveAspectRatio="none" overflow="hidden"><rect width="100" height="100" fill="#2e2e2e"/><g filter="url(#bl)"><ellipse cx="50" cy="52" rx="56" ry="52" fill="#dadada" /><ellipse cx="50" cy="52" rx="50" ry="47" fill="#e4e4e4" /><ellipse cx="27.5" cy="52" rx="18.5" ry="38" fill="#4a4a4a" /><ellipse cx="68" cy="53" rx="20" ry="38" fill="#4a4a4a" /><ellipse cx="48" cy="36" rx="5.5" ry="20" fill="#f8f8f8" /><ellipse cx="37" cy="52" rx="4.5" ry="6" fill="#fcfcfc" /><ellipse cx="49" cy="48" rx="2.2" ry="3" fill="#1a1a1a" /><ellipse cx="50" cy="93" rx="7" ry="6" fill="#fafafa" /><path d="M56 50L66 42M56 54L72 58M55 58L64 74M34 60L28 72" stroke="#858585" stroke-width="2" fill="none" stroke-linecap="round"/></g></svg>
<path d="M355.09 260.44L360.28 263.85" stroke="#ee1c25" stroke-width="1.0" fill="none"/>
<path d="M362.28 265.17L359.31 264.77L360.74 262.60z" fill="#ee1c25"/>
<svg x="409.00" y="256.90" width="21.10" height="17.10" viewBox="0 0 100 100" preserveAspectRatio="none" overflow="hidden"><rect width="100" height="100" fill="#0e0e0e"/><g filter="url(#bl)"><ellipse cx="50" cy="52" rx="47" ry="44" fill="#222" stroke="#bdbdbd" stroke-width="3"/><path d="M10 42 Q14 14 45 12 Q78 10 84 30 Q86 46 62 56 Q50 62 42 80 Q30 92 16 74 Z" fill="#c2c2c2"/><ellipse cx="72" cy="66" rx="16" ry="18" fill="#0a0a0a" /><ellipse cx="50" cy="84" rx="6" ry="8" fill="#e6e6e6" /><ellipse cx="58" cy="70" rx="3" ry="6" fill="#999" /></g></svg>
<path d="M409.42 260.66L413.52 264.22" stroke="#ee1c25" stroke-width="1.0" fill="none"/>
<path d="M415.33 265.79L412.44 265.00L414.14 263.04z" fill="#ee1c25"/>
<svg x="447.10" y="256.90" width="20.90" height="17.10" viewBox="0 0 100 100" preserveAspectRatio="none" overflow="hidden"><rect width="100" height="100" fill="#0e0e0e"/><g filter="url(#bl)"><ellipse cx="50" cy="52" rx="47" ry="44" fill="#222" stroke="#bdbdbd" stroke-width="3"/><path d="M10 42 Q14 14 45 12 Q78 10 84 30 Q86 46 62 56 Q50 62 42 80 Q30 92 16 74 Z" fill="#c2c2c2"/><ellipse cx="72" cy="66" rx="16" ry="18" fill="#0a0a0a" /><ellipse cx="50" cy="84" rx="6" ry="8" fill="#e6e6e6" /><ellipse cx="58" cy="70" rx="3" ry="6" fill="#999" /></g></svg>
<path d="M447.52 260.66L451.57 264.21" stroke="#ee1c25" stroke-width="1.0" fill="none"/>
<path d="M453.37 265.79L450.48 264.99L452.20 263.03z" fill="#ee1c25"/>
<text x="290" y="281.7" font-size="6.5" fill="#222" text-anchor="middle" textLength="19" lengthAdjust="spacingAndGlyphs" stroke="#222" stroke-width="0.05">Baseline</text>
<text x="326.3" y="281.7" font-size="6.5" fill="#222" text-anchor="middle" textLength="6.5" lengthAdjust="spacingAndGlyphs" stroke="#222" stroke-width="0.05">PR</text>
<text x="366.3" y="281.7" font-size="6.5" fill="#222" text-anchor="middle" textLength="6.5" lengthAdjust="spacingAndGlyphs" stroke="#222" stroke-width="0.05">PR</text>
<text x="420" y="281.7" font-size="6.5" fill="#222" text-anchor="middle" textLength="37" lengthAdjust="spacingAndGlyphs" stroke="#222" stroke-width="0.05">Unconfirmed PD</text>
<text x="457" y="281.7" font-size="6.5" fill="#e23a3f" text-anchor="middle" textLength="6.5" lengthAdjust="spacingAndGlyphs" stroke="#e23a3f" stroke-width="0.05">PD</text>
<text x="0.7" y="309.70000000000005" font-size="10.7" fill="#000" font-weight="bold" stroke="#000" stroke-width="0.14">E</text>
<text x="10.399999999999999" y="322.1" font-size="7.6" fill="#151515" font-weight="bold" textLength="17.8" lengthAdjust="spacingAndGlyphs" stroke="#151515" stroke-width="0.14">ID 135</text>
<text x="99.5" y="322.5" font-size="7.0" fill="#7a7a7a" font-style="italic" textLength="48.5" lengthAdjust="spacingAndGlyphs" stroke="#7a7a7a" stroke-width="0.14">Immunotherapy</text>
<path d="M29.5 327.5V325.5H218.8V327.5" fill="none" stroke="#b4b4b4" stroke-width="0.7"/>
<rect x="30.50" y="330.00" width="13.80" height="3.80" fill="#6f9892" />
<line x1="30.90" y1="331.90" x2="43.90" y2="331.90" stroke="#fff" stroke-opacity="0.28" stroke-width="0.6" stroke-dasharray="1 0.6"/>
<rect x="45.00" y="330.00" width="13.00" height="3.80" fill="#e3c170" />
<line x1="45.40" y1="331.90" x2="57.60" y2="331.90" stroke="#fff" stroke-opacity="0.28" stroke-width="0.6" stroke-dasharray="1 0.6"/>
<rect x="59.00" y="330.00" width="13.50" height="3.80" fill="#6f9892" />
<line x1="59.40" y1="331.90" x2="72.10" y2="331.90" stroke="#fff" stroke-opacity="0.28" stroke-width="0.6" stroke-dasharray="1 0.6"/>
<rect x="73.00" y="330.00" width="13.30" height="3.80" fill="#e3c170" />
<line x1="73.40" y1="331.90" x2="85.90" y2="331.90" stroke="#fff" stroke-opacity="0.28" stroke-width="0.6" stroke-dasharray="1 0.6"/>
<rect x="87.30" y="330.00" width="13.20" height="3.80" fill="#6f9892" />
<line x1="87.70" y1="331.90" x2="100.10" y2="331.90" stroke="#fff" stroke-opacity="0.28" stroke-width="0.6" stroke-dasharray="1 0.6"/>
<rect x="101.30" y="330.00" width="13.20" height="3.80" fill="#6f9892" />
<line x1="101.70" y1="331.90" x2="114.10" y2="331.90" stroke="#fff" stroke-opacity="0.28" stroke-width="0.6" stroke-dasharray="1 0.6"/>
<rect x="115.00" y="330.00" width="13.00" height="3.80" fill="#e3c170" />
<line x1="115.40" y1="331.90" x2="127.60" y2="331.90" stroke="#fff" stroke-opacity="0.28" stroke-width="0.6" stroke-dasharray="1 0.6"/>
<rect x="128.50" y="328.30" width="90.30" height="7.00" fill="#fbfdfd" stroke="#8fb8b4" stroke-width="0.7" />
<rect x="129.00" y="329.80" width="13.00" height="4.30" fill="#6f9892" />
<line x1="129.40" y1="331.95" x2="141.60" y2="331.95" stroke="#fff" stroke-opacity="0.28" stroke-width="0.6" stroke-dasharray="1 0.6"/>
<rect x="145.30" y="329.80" width="13.20" height="4.30" fill="#6f9892" />
<line x1="145.70" y1="331.95" x2="158.10" y2="331.95" stroke="#fff" stroke-opacity="0.28" stroke-width="0.6" stroke-dasharray="1 0.6"/>
<rect x="187.00" y="329.80" width="12.50" height="4.30" fill="#6f9892" />
<line x1="187.40" y1="331.95" x2="199.10" y2="331.95" stroke="#fff" stroke-opacity="0.28" stroke-width="0.6" stroke-dasharray="1 0.6"/>
<rect x="205.00" y="329.80" width="12.80" height="4.30" fill="#e3c170" />
<line x1="205.40" y1="331.95" x2="217.40" y2="331.95" stroke="#fff" stroke-opacity="0.28" stroke-width="0.6" stroke-dasharray="1 0.6"/>
<text x="7.1" y="369" font-size="6.7" fill="#555" text-anchor="middle" textLength="86.8" lengthAdjust="spacingAndGlyphs" transform="rotate(-90 7.1 369)" stroke="#555" stroke-width="0.2">Mutated alleles/mL plasma</text>
<line x1="28.4" y1="334.1" x2="28.4" y2="404.25" stroke="#6e6e6e" stroke-width="1.05" />
<line x1="25.5" y1="334.5" x2="28.4" y2="334.5" stroke="#787878" stroke-width="0.8" />
<text x="23.599999999999998" y="336.6" font-size="5.6" fill="#474747" text-anchor="end" stroke="#474747" stroke-width="0.14">20</text>
<line x1="25.5" y1="351.9" x2="28.4" y2="351.9" stroke="#787878" stroke-width="0.8" />
<text x="23.599999999999998" y="354.0" font-size="5.6" fill="#474747" text-anchor="end" stroke="#474747" stroke-width="0.14">15</text>
<line x1="25.5" y1="369.2" x2="28.4" y2="369.2" stroke="#787878" stroke-width="0.8" />
<text x="23.599999999999998" y="371.3" font-size="5.6" fill="#474747" text-anchor="end" stroke="#474747" stroke-width="0.14">10</text>
<line x1="25.5" y1="386.4" x2="28.4" y2="386.4" stroke="#787878" stroke-width="0.8" />
<text x="23.599999999999998" y="388.5" font-size="5.6" fill="#474747" text-anchor="end" stroke="#474747" stroke-width="0.14">5</text>
<line x1="25.5" y1="403.75" x2="28.4" y2="403.75" stroke="#787878" stroke-width="0.8" />
<text x="23.599999999999998" y="405.75" font-size="5.3" fill="#474747" text-anchor="end" textLength="9.8" lengthAdjust="spacingAndGlyphs" stroke="#474747" stroke-width="0.14">LOD</text>
<line x1="27.9" y1="403.75" x2="230" y2="403.75" stroke="#787878" stroke-width="1.1" />
<line x1="61.2" y1="401.35" x2="61.2" y2="403.75" stroke="#787878" stroke-width="0.8" />
<text x="61.2" y="398.95" font-size="5.9" fill="#474747" text-anchor="middle" stroke="#474747" stroke-width="0.14">50</text>
<line x1="93.9" y1="401.35" x2="93.9" y2="403.75" stroke="#787878" stroke-width="0.8" />
<text x="93.9" y="398.95" font-size="5.9" fill="#474747" text-anchor="middle" stroke="#474747" stroke-width="0.14">100</text>
<line x1="126.6" y1="401.35" x2="126.6" y2="403.75" stroke="#787878" stroke-width="0.8" />
<text x="126.6" y="398.95" font-size="5.9" fill="#474747" text-anchor="middle" stroke="#474747" stroke-width="0.14">150</text>
<line x1="159.3" y1="401.35" x2="159.3" y2="403.75" stroke="#787878" stroke-width="0.8" />
<text x="159.3" y="398.95" font-size="5.9" fill="#474747" text-anchor="middle" stroke="#474747" stroke-width="0.14">200</text>
<line x1="192" y1="401.35" x2="192" y2="403.75" stroke="#787878" stroke-width="0.8" />
<text x="192" y="398.95" font-size="5.9" fill="#474747" text-anchor="middle" stroke="#474747" stroke-width="0.14">250</text>
<line x1="224.6" y1="401.35" x2="224.6" y2="403.75" stroke="#787878" stroke-width="0.8" />
<text x="224.6" y="398.95" font-size="5.9" fill="#474747" text-anchor="middle" stroke="#474747" stroke-width="0.14">300</text>
<text x="237.5" y="405.9" font-size="7.0" fill="#4c4c4c" textLength="15.6" lengthAdjust="spacingAndGlyphs" stroke="#4c4c4c" stroke-width="0.14">Days</text>
<rect x="179.40" y="352.50" width="2.60" height="51.20" fill="#cfcfcf" />
<text x="172.5" y="347.5" font-size="6.1" fill="#a0a0a0" font-style="italic" textLength="16.3" lengthAdjust="spacingAndGlyphs">SBRT</text>
<polyline points="28.4,403.75 42,403.75 56.25,403.75 69.5,403.75 85.75,403.75 99.25,403.75 114.5,403.75 128,369.25 145,358.75 163.25,348.75 186.25,351.75 204.5,403.75 216.25,403.75 230,403.75" fill="none" stroke="#aa4577" stroke-width="1.3" stroke-linejoin="round"/>
<circle cx="28.4" cy="403.75" r="1.45" fill="#b98fa6" stroke="#6e1d4a" stroke-width="0.95"/>
<circle cx="42" cy="403.75" r="1.45" fill="#b98fa6" stroke="#6e1d4a" stroke-width="0.95"/>
<circle cx="56.25" cy="403.75" r="1.45" fill="#b98fa6" stroke="#6e1d4a" stroke-width="0.95"/>
<circle cx="69.5" cy="403.75" r="1.45" fill="#b98fa6" stroke="#6e1d4a" stroke-width="0.95"/>
<circle cx="85.75" cy="403.75" r="1.45" fill="#b98fa6" stroke="#6e1d4a" stroke-width="0.95"/>
<circle cx="99.25" cy="403.75" r="1.45" fill="#b98fa6" stroke="#6e1d4a" stroke-width="0.95"/>
<circle cx="114.5" cy="403.75" r="1.45" fill="#b98fa6" stroke="#6e1d4a" stroke-width="0.95"/>
<circle cx="128" cy="369.25" r="1.45" fill="#b98fa6" stroke="#6e1d4a" stroke-width="0.95"/>
<circle cx="145" cy="358.75" r="1.45" fill="#b98fa6" stroke="#6e1d4a" stroke-width="0.95"/>
<circle cx="163.25" cy="348.75" r="1.45" fill="#b98fa6" stroke="#6e1d4a" stroke-width="0.95"/>
<circle cx="186.25" cy="351.75" r="1.45" fill="#b98fa6" stroke="#6e1d4a" stroke-width="0.95"/>
<circle cx="204.5" cy="403.75" r="1.45" fill="#b98fa6" stroke="#6e1d4a" stroke-width="0.95"/>
<circle cx="216.25" cy="403.75" r="1.45" fill="#b98fa6" stroke="#6e1d4a" stroke-width="0.95"/>
<circle cx="230" cy="403.75" r="1.45" fill="#b98fa6" stroke="#6e1d4a" stroke-width="0.95"/>
<text x="198" y="371.8" font-size="6.15" fill="#141414" font-style="italic" textLength="32.8" lengthAdjust="spacingAndGlyphs" stroke="#141414" stroke-width="0.14">KRAS G12A</text>
<line x1="28.2" y1="404" x2="28.2" y2="410" stroke="#9a9a9a" stroke-width="0.6" />
<line x1="67.6" y1="404" x2="67.6" y2="410" stroke="#9a9a9a" stroke-width="0.6" />
<line x1="109.5" y1="404" x2="109.5" y2="410" stroke="#9a9a9a" stroke-width="0.6" />
<line x1="159.4" y1="404" x2="159.4" y2="410" stroke="#9a9a9a" stroke-width="0.6" />
<line x1="198.8" y1="404" x2="198.8" y2="410" stroke="#9a9a9a" stroke-width="0.6" />
<svg x="18.60" y="410.00" width="22.40" height="18.30" viewBox="0 0 100 100" preserveAspectRatio="none" overflow="hidden"><rect width="100" height="100" fill="#343434"/><g filter="url(#bl)"><ellipse cx="50" cy="50" rx="48" ry="47" fill="#e2e2e2" /><ellipse cx="28" cy="56" rx="17" ry="31" fill="#545454" /><ellipse cx="73" cy="56" rx="17" ry="31" fill="#545454" /><ellipse cx="50" cy="34" rx="13" ry="24" fill="#f6f6f6" /><ellipse cx="50" cy="70" rx="5" ry="16" fill="#f0f0f0" /><path d="M40 60L28 52M40 64L26 72M60 60L72 52M60 64L74 72" stroke="#9a9a9a" stroke-width="2.2" fill="none" stroke-linecap="round"/></g></svg>
<path d="M19.50 416.95L23.27 422.31" stroke="#ee1c25" stroke-width="1.0" fill="none"/>
<path d="M24.65 424.27L22.03 422.81L24.16 421.32z" fill="#ee1c25"/>
<svg x="56.40" y="410.00" width="23.60" height="18.30" viewBox="0 0 100 100" preserveAspectRatio="none" overflow="hidden"><rect width="100" height="100" fill="#343434"/><g filter="url(#bl)"><ellipse cx="50" cy="50" rx="48" ry="47" fill="#e2e2e2" /><ellipse cx="28" cy="56" rx="17" ry="31" fill="#545454" /><ellipse cx="73" cy="56" rx="17" ry="31" fill="#545454" /><ellipse cx="50" cy="34" rx="13" ry="24" fill="#f6f6f6" /><ellipse cx="50" cy="70" rx="5" ry="16" fill="#f0f0f0" /><path d="M40 60L28 52M40 64L26 72M60 60L72 52M60 64L74 72" stroke="#9a9a9a" stroke-width="2.2" fill="none" stroke-linecap="round"/></g></svg>
<path d="M57.34 416.95L61.34 422.35" stroke="#ee1c25" stroke-width="1.0" fill="none"/>
<path d="M62.77 424.27L60.12 422.88L62.21 421.33z" fill="#ee1c25"/>
<svg x="97.90" y="410.00" width="23.20" height="18.40" viewBox="0 0 100 100" preserveAspectRatio="none" overflow="hidden"><rect width="100" height="100" fill="#0c0c0c"/><g filter="url(#bl)"><ellipse cx="50" cy="52" rx="47" ry="44" fill="#141414" stroke="#9a9a9a" stroke-width="2.2"/><path d="M7 52 Q8 18 38 11 Q52 10 49 30 Q46 58 37 80 Q22 92 10 72 Z" fill="#b2b2b2"/><ellipse cx="71" cy="44" rx="18" ry="25" fill="#3c3c3c" /><ellipse cx="66" cy="36" rx="7" ry="9" fill="#9c9c9c" /><ellipse cx="80" cy="54" rx="6" ry="9" fill="#8c8c8c" /><ellipse cx="63" cy="62" rx="6" ry="7" fill="#7a7a7a" /><ellipse cx="76" cy="30" rx="4" ry="5" fill="#aaa" /><path d="M50 58 L42 92 M50 58 L58 92" stroke="#e6e6e6" stroke-width="3.5" fill="none"/><ellipse cx="50" cy="86" rx="5" ry="6" fill="#efefef" /></g></svg>
<path d="M100.22 414.05L104.64 418.90" stroke="#ee1c25" stroke-width="1.0" fill="none"/>
<path d="M106.25 420.67L103.47 419.55L105.40 417.80z" fill="#ee1c25"/>
<svg x="148.80" y="410.00" width="22.20" height="18.50" viewBox="0 0 100 100" preserveAspectRatio="none" overflow="hidden"><rect width="100" height="100" fill="#0c0c0c"/><g filter="url(#bl)"><ellipse cx="50" cy="52" rx="47" ry="44" fill="#141414" stroke="#9a9a9a" stroke-width="2.2"/><path d="M7 52 Q8 18 38 11 Q52 10 49 30 Q46 58 37 80 Q22 92 10 72 Z" fill="#b2b2b2"/><ellipse cx="71" cy="44" rx="18" ry="25" fill="#3c3c3c" /><ellipse cx="66" cy="36" rx="7" ry="9" fill="#9c9c9c" /><ellipse cx="80" cy="54" rx="6" ry="9" fill="#8c8c8c" /><ellipse cx="63" cy="62" rx="6" ry="7" fill="#7a7a7a" /><ellipse cx="76" cy="30" rx="4" ry="5" fill="#aaa" /><path d="M50 58 L42 92 M50 58 L58 92" stroke="#e6e6e6" stroke-width="3.5" fill="none"/><ellipse cx="50" cy="86" rx="5" ry="6" fill="#efefef" /></g></svg>
<path d="M151.02 414.07L155.22 418.92" stroke="#ee1c25" stroke-width="1.0" fill="none"/>
<path d="M156.79 420.73L154.04 419.54L156.01 417.84z" fill="#ee1c25"/>
<svg x="187.80" y="410.00" width="23.40" height="18.50" viewBox="0 0 100 100" preserveAspectRatio="none" overflow="hidden"><rect width="100" height="100" fill="#0c0c0c"/><g filter="url(#bl)"><ellipse cx="50" cy="52" rx="47" ry="44" fill="#141414" stroke="#9a9a9a" stroke-width="2.2"/><path d="M7 52 Q8 18 38 11 Q52 10 49 30 Q46 58 37 80 Q22 92 10 72 Z" fill="#b2b2b2"/><ellipse cx="71" cy="44" rx="18" ry="25" fill="#3c3c3c" /><ellipse cx="66" cy="36" rx="7" ry="9" fill="#9c9c9c" /><ellipse cx="80" cy="54" rx="6" ry="9" fill="#8c8c8c" /><ellipse cx="63" cy="62" rx="6" ry="7" fill="#7a7a7a" /><ellipse cx="76" cy="30" rx="4" ry="5" fill="#aaa" /><path d="M50 58 L42 92 M50 58 L58 92" stroke="#e6e6e6" stroke-width="3.5" fill="none"/><ellipse cx="50" cy="86" rx="5" ry="6" fill="#efefef" /></g></svg>
<path d="M190.14 414.07L194.61 418.96" stroke="#ee1c25" stroke-width="1.0" fill="none"/>
<path d="M196.22 420.73L193.44 419.61L195.36 417.86z" fill="#ee1c25"/>
<text x="29.5" y="435.3" font-size="6.5" fill="#222" text-anchor="middle" textLength="19" lengthAdjust="spacingAndGlyphs" stroke="#222" stroke-width="0.05">Baseline</text>
<text x="68" y="435.3" font-size="6.5" fill="#222" text-anchor="middle" textLength="6.5" lengthAdjust="spacingAndGlyphs" stroke="#222" stroke-width="0.05">SD</text>
<text x="109" y="435.3" font-size="6.5" fill="#222" text-anchor="middle" textLength="6.5" lengthAdjust="spacingAndGlyphs" stroke="#222" stroke-width="0.05">SD</text>
<text x="158.8" y="435.3" font-size="6.5" fill="#e23a3f" text-anchor="middle" textLength="6.5" lengthAdjust="spacingAndGlyphs" stroke="#e23a3f" stroke-width="0.05">PD</text>
<text x="198.8" y="435.3" font-size="6.5" fill="#222" text-anchor="middle" textLength="6.5" lengthAdjust="spacingAndGlyphs" stroke="#222" stroke-width="0.05">SD</text>
<text x="262.4" y="309.70000000000005" font-size="10.7" fill="#000" font-weight="bold" stroke="#000" stroke-width="0.14">F</text>
<text x="327" y="321.3" font-size="7.0" fill="#7a7a7a" font-style="italic" textLength="121.8" lengthAdjust="spacingAndGlyphs" stroke="#7a7a7a" stroke-width="0.14">Immunotherapy - long-term responders</text>
<text x="264.6" y="369" font-size="6.7" fill="#555" text-anchor="middle" textLength="86.7" lengthAdjust="spacingAndGlyphs" transform="rotate(-90 264.6 369)" stroke="#555" stroke-width="0.2">Mutated alleles/mL plasma</text>
<line x1="287.9" y1="334.2" x2="287.9" y2="340" stroke="#707070" stroke-width="1.2" />
<line x1="287.9" y1="343.6" x2="287.9" y2="404.2" stroke="#707070" stroke-width="1.2" />
<line x1="285.0" y1="335.6" x2="287.9" y2="335.6" stroke="#707070" stroke-width="0.9" />
<text x="283.2" y="337.75" font-size="5.8" fill="#474747" text-anchor="end" stroke="#474747" stroke-width="0.14">2,200</text>
<line x1="285.29999999999995" y1="347" x2="287.9" y2="347" stroke="#787878" stroke-width="0.8" />
<text x="283.2" y="349.0" font-size="5.8" fill="#474747" text-anchor="end" stroke="#474747" stroke-width="0.14">1,000</text>
<line x1="285.29999999999995" y1="358.25" x2="287.9" y2="358.25" stroke="#787878" stroke-width="0.8" />
<text x="283.2" y="360.25" font-size="5.8" fill="#474747" text-anchor="end" stroke="#474747" stroke-width="0.14">800</text>
<line x1="285.29999999999995" y1="369.5" x2="287.9" y2="369.5" stroke="#787878" stroke-width="0.8" />
<text x="283.2" y="371.5" font-size="5.8" fill="#474747" text-anchor="end" stroke="#474747" stroke-width="0.14">600</text>
<line x1="285.29999999999995" y1="380.75" x2="287.9" y2="380.75" stroke="#787878" stroke-width="0.8" />
<text x="283.2" y="382.75" font-size="5.8" fill="#474747" text-anchor="end" stroke="#474747" stroke-width="0.14">400</text>
<line x1="285.29999999999995" y1="392" x2="287.9" y2="392" stroke="#787878" stroke-width="0.8" />
<text x="283.2" y="394.0" font-size="5.8" fill="#474747" text-anchor="end" stroke="#474747" stroke-width="0.14">200</text>
<line x1="285.29999999999995" y1="403.75" x2="287.9" y2="403.75" stroke="#787878" stroke-width="0.8" />
<text x="283.2" y="405.75" font-size="5.8" fill="#474747" text-anchor="end" textLength="10.6" lengthAdjust="spacingAndGlyphs" stroke="#474747" stroke-width="0.14">LOD</text>
<line x1="287.4" y1="403.75" x2="471.5" y2="403.75" stroke="#787878" stroke-width="1.1" />
<line x1="479" y1="403.75" x2="501" y2="403.75" stroke="#787878" stroke-width="1.1" />
<line x1="288" y1="403.75" x2="288" y2="406.3" stroke="#787878" stroke-width="0.8" />
<text x="288" y="413.4" font-size="5.8" fill="#474747" text-anchor="middle" stroke="#474747" stroke-width="0.14">0</text>
<line x1="340.5" y1="403.75" x2="340.5" y2="406.3" stroke="#787878" stroke-width="0.8" />
<text x="340.5" y="413.4" font-size="5.8" fill="#474747" text-anchor="middle" stroke="#474747" stroke-width="0.14">100</text>
<line x1="393" y1="403.75" x2="393" y2="406.3" stroke="#787878" stroke-width="0.8" />
<text x="393" y="413.4" font-size="5.8" fill="#474747" text-anchor="middle" stroke="#474747" stroke-width="0.14">200</text>
<line x1="446" y1="403.75" x2="446" y2="406.3" stroke="#787878" stroke-width="0.8" />
<text x="446" y="413.4" font-size="5.8" fill="#474747" text-anchor="middle" stroke="#474747" stroke-width="0.14">300</text>
<line x1="498" y1="403.75" x2="498" y2="406.3" stroke="#787878" stroke-width="0.8" />
<text x="498" y="413.4" font-size="5.8" fill="#474747" text-anchor="middle" stroke="#474747" stroke-width="0.14">728</text>
<text x="504.5" y="406" font-size="7.0" fill="#4c4c4c" textLength="15.6" lengthAdjust="spacingAndGlyphs" stroke="#4c4c4c" stroke-width="0.14">Days</text>
<polyline points="300.6,403.2 313.2,364.6 334.5,376.3 346.3,393.3 357.5,388.3 370,391.8 382.5,401.3 393,402.8 405,399.5 416.3,400 427,397.5 437.5,395 448.8,396.8 460.5,392.5 472,397.5" fill="none" stroke="#cbcbcb" stroke-width="1.2" stroke-linejoin="round" stroke-dasharray="3 2"/>
<circle cx="300.6" cy="403.2" r="1.65" fill="#cbcbcb"/>
<circle cx="313.2" cy="364.6" r="1.65" fill="#cbcbcb"/>
<circle cx="334.5" cy="376.3" r="1.65" fill="#cbcbcb"/>
<circle cx="346.3" cy="393.3" r="1.65" fill="#cbcbcb"/>
<circle cx="357.5" cy="388.3" r="1.65" fill="#cbcbcb"/>
<circle cx="370" cy="391.8" r="1.65" fill="#cbcbcb"/>
<circle cx="382.5" cy="401.3" r="1.65" fill="#cbcbcb"/>
<circle cx="393" cy="402.8" r="1.65" fill="#cbcbcb"/>
<circle cx="405" cy="399.5" r="1.65" fill="#cbcbcb"/>
<circle cx="416.3" cy="400" r="1.65" fill="#cbcbcb"/>
<circle cx="427" cy="397.5" r="1.65" fill="#cbcbcb"/>
<circle cx="437.5" cy="395" r="1.65" fill="#cbcbcb"/>
<circle cx="448.8" cy="396.8" r="1.65" fill="#cbcbcb"/>
<circle cx="460.5" cy="392.5" r="1.65" fill="#cbcbcb"/>
<circle cx="472" cy="397.5" r="1.65" fill="#cbcbcb"/>
<polyline points="482.5,397.5 493.8,396.3 505,399.5" fill="none" stroke="#cbcbcb" stroke-width="1.2" stroke-linejoin="round" stroke-dasharray="3 2"/>
<circle cx="482.5" cy="397.5" r="1.65" fill="#cbcbcb"/>
<circle cx="493.8" cy="396.3" r="1.65" fill="#cbcbcb"/>
<circle cx="505" cy="399.5" r="1.65" fill="#cbcbcb"/>
<polyline points="288,377.5 304.6,344.5" fill="none" stroke="#9a6828" stroke-width="1.2"/>
<polyline points="306.9,340 310,334.6 311.4,340" fill="none" stroke="#9a6828" stroke-width="1.2" stroke-linejoin="round"/>
<polyline points="312.1,344.5 321.25,397.5 332.5,403.75" fill="none" stroke="#9a6828" stroke-width="1.2" stroke-linejoin="round"/>
<circle cx="288" cy="377.5" r="1.4" fill="#9a6828"/>
<circle cx="310" cy="334.6" r="1.4" fill="#9a6828"/>
<circle cx="321.25" cy="397.5" r="1.4" fill="#9a6828"/>
<polyline points="288,391.3 298.8,379.3 310,391.8 321.3,397.5 332.5,403.5 343.8,403.75" fill="none" stroke="#c8681c" stroke-width="1.2" stroke-linejoin="round"/>
<circle cx="288" cy="391.3" r="1.4" fill="#c8681c"/>
<circle cx="298.8" cy="379.3" r="1.4" fill="#c8681c"/>
<circle cx="310" cy="391.8" r="1.4" fill="#c8681c"/>
<circle cx="321.3" cy="397.5" r="1.4" fill="#c8681c"/>
<circle cx="332.5" cy="403.5" r="1.4" fill="#c8681c"/>
<circle cx="343.8" cy="403.75" r="1.4" fill="#c8681c"/>
<polyline points="288,391.3 300,395 310.5,402.5 321.3,403.75" fill="none" stroke="#c9b680" stroke-width="1.1" stroke-linejoin="round"/>
<circle cx="288" cy="391.3" r="1.3" fill="#c9b680"/>
<circle cx="300" cy="395" r="1.3" fill="#c9b680"/>
<circle cx="310.5" cy="402.5" r="1.3" fill="#c9b680"/>
<circle cx="321.3" cy="403.75" r="1.3" fill="#c9b680"/>
<polyline points="288,362 298.8,398.6 309.8,403.75 321.3,403.75" fill="none" stroke="#a3101e" stroke-width="1.25" stroke-linejoin="round"/>
<circle cx="288" cy="362" r="1.4" fill="#a3101e"/>
<circle cx="298.8" cy="398.6" r="1.4" fill="#a3101e"/>
<circle cx="309.8" cy="403.75" r="1.4" fill="#a3101e"/>
<circle cx="321.3" cy="403.75" r="1.4" fill="#a3101e"/>
<polyline points="288,397.5 299,400.8 310,403 321.3,403.75" fill="none" stroke="#5cc232" stroke-width="1.2" stroke-linejoin="round"/>
<circle cx="288" cy="397.5" r="1.4" fill="#5cc232"/>
<circle cx="299" cy="400.8" r="1.4" fill="#5cc232"/>
<circle cx="310" cy="403" r="1.4" fill="#5cc232"/>
<circle cx="321.3" cy="403.75" r="1.4" fill="#5cc232"/>
<line x1="298" y1="403.75" x2="472.6" y2="403.75" stroke="#d98ea0" stroke-width="2.2" />
<line x1="479.3" y1="403.75" x2="500.3" y2="403.75" stroke="#7a9a40" stroke-width="2.2" />
<circle cx="302.5" cy="403.75" r="1.35" fill="#5cc232"/>
<circle cx="305.5" cy="403.75" r="1.35" fill="#f0a3a8"/>
<circle cx="316" cy="403.75" r="1.35" fill="#c8681c"/>
<circle cx="324" cy="403.75" r="1.35" fill="#5cc232"/>
<circle cx="327.5" cy="403.75" r="1.35" fill="#f07cc0"/>
<circle cx="338" cy="403.75" r="1.35" fill="#f0a3a8"/>
<circle cx="346.5" cy="403.75" r="1.35" fill="#5cc232"/>
<circle cx="349.5" cy="403.75" r="1.35" fill="#c8681c"/>
<circle cx="358" cy="403.75" r="1.35" fill="#5cc232"/>
<circle cx="361" cy="403.75" r="1.35" fill="#f0a3a8"/>
<circle cx="371.5" cy="403.75" r="1.35" fill="#9a6828"/>
<circle cx="380" cy="403.75" r="1.35" fill="#5cc232"/>
<circle cx="383" cy="403.75" r="1.35" fill="#f07cc0"/>
<circle cx="391" cy="403.75" r="1.35" fill="#5cc232"/>
<circle cx="395" cy="403.75" r="1.35" fill="#f0a3a8"/>
<circle cx="403" cy="403.75" r="1.35" fill="#9a6828"/>
<circle cx="417" cy="403.75" r="1.35" fill="#5cc232"/>
<circle cx="420.5" cy="403.75" r="1.35" fill="#c8681c"/>
<circle cx="428.5" cy="403.75" r="1.35" fill="#5cc232"/>
<circle cx="431.5" cy="403.75" r="1.35" fill="#f0a3a8"/>
<circle cx="440.5" cy="403.75" r="1.35" fill="#9a6828"/>
<circle cx="446" cy="403.75" r="1.35" fill="#f07cc0"/>
<circle cx="451.6" cy="403.75" r="1.35" fill="#5cc232"/>
<circle cx="454.5" cy="403.75" r="1.35" fill="#c8681c"/>
<circle cx="462" cy="403.75" r="1.35" fill="#5cc232"/>
<circle cx="465" cy="403.75" r="1.35" fill="#f0a3a8"/>
<polyline points="288,399.6 299.2,403.75 472.6,403.75" fill="none" stroke="#1212d8" stroke-width="1.5" stroke-linejoin="round"/>
<circle cx="288" cy="399.6" r="1.6" fill="#1212d8"/>
<circle cx="299.2" cy="403.75" r="1.6" fill="#1212d8"/>
<circle cx="310.1" cy="403.75" r="1.6" fill="#1212d8"/>
<circle cx="321.2" cy="403.75" r="1.6" fill="#1212d8"/>
<circle cx="332.7" cy="403.75" r="1.6" fill="#1212d8"/>
<circle cx="343.8" cy="403.75" r="1.6" fill="#1212d8"/>
<circle cx="355.1" cy="403.75" r="1.6" fill="#1212d8"/>
<circle cx="366.2" cy="403.75" r="1.6" fill="#1212d8"/>
<circle cx="377.3" cy="403.75" r="1.6" fill="#1212d8"/>
<circle cx="388.2" cy="403.75" r="1.6" fill="#1212d8"/>
<circle cx="399.5" cy="403.75" r="1.6" fill="#1212d8"/>
<circle cx="410" cy="403.75" r="1.6" fill="#1212d8"/>
<circle cx="425" cy="403.75" r="1.6" fill="#1212d8"/>
<circle cx="436.6" cy="403.75" r="1.6" fill="#1212d8"/>
<circle cx="447.6" cy="403.75" r="1.6" fill="#1212d8"/>
<circle cx="458.5" cy="403.75" r="1.6" fill="#1212d8"/>
<circle cx="469.6" cy="403.75" r="1.6" fill="#1212d8"/>
<line x1="479.3" y1="403.75" x2="499.6" y2="403.75" stroke="#1212d8" stroke-width="1.5" />
<circle cx="480" cy="403.75" r="1.4" fill="#6a1a1a"/>
<circle cx="484.4" cy="403.75" r="1.6" fill="#1212d8"/>
<circle cx="496.8" cy="403.75" r="1.6" fill="#1212d8"/>
<circle cx="487.6" cy="403.75" r="1.3" fill="#5cc232"/>
<circle cx="500.1" cy="403.75" r="1.3" fill="#5cc232"/>
<circle cx="288" cy="402" r="1.3" fill="#f0a3a8"/><circle cx="288" cy="403.75" r="1.3" fill="#3b7fa3"/>
<line x1="288" y1="403.75" x2="299" y2="403.75" stroke="#3b7fa3" stroke-width="1.1" />
<line x1="432.5" y1="336.8" x2="440.8" y2="336.8" stroke="#1212d8" stroke-width="1.0" />
<circle cx="436.6" cy="336.80" r="1.7" fill="#1212d8"/>
<text x="443.8" y="339.0" font-size="6.2" fill="#222" textLength="16.7" lengthAdjust="spacingAndGlyphs" stroke="#222" stroke-width="0.14">ID 006</text>
<line x1="432.5" y1="345.75" x2="440.8" y2="345.75" stroke="#5cc232" stroke-width="1.0" />
<circle cx="436.6" cy="345.75" r="1.7" fill="#5cc232"/>
<text x="443.8" y="347.95" font-size="6.2" fill="#222" textLength="16.7" lengthAdjust="spacingAndGlyphs" stroke="#222" stroke-width="0.14">ID 026</text>
<line x1="432.5" y1="354.7" x2="440.8" y2="354.7" stroke="#c9b680" stroke-width="1.0" />
<circle cx="436.6" cy="354.70" r="1.7" fill="#c9b680"/>
<text x="443.8" y="356.9" font-size="6.2" fill="#222" textLength="16.7" lengthAdjust="spacingAndGlyphs" stroke="#222" stroke-width="0.14">ID 083</text>
<line x1="432.5" y1="363.65000000000003" x2="440.8" y2="363.65000000000003" stroke="#f0a3a8" stroke-width="1.0" />
<circle cx="436.6" cy="363.65" r="1.7" fill="#f0a3a8"/>
<text x="443.8" y="365.85" font-size="6.2" fill="#222" textLength="16.7" lengthAdjust="spacingAndGlyphs" stroke="#222" stroke-width="0.14">ID 096</text>
<line x1="432.5" y1="372.6" x2="440.8" y2="372.6" stroke="#9a6828" stroke-width="1.0" />
<circle cx="436.6" cy="372.60" r="1.7" fill="#9a6828"/>
<text x="443.8" y="374.8" font-size="6.2" fill="#222" textLength="16.7" lengthAdjust="spacingAndGlyphs" stroke="#222" stroke-width="0.14">ID 100</text>
<line x1="470" y1="337.2" x2="478" y2="337.2" stroke="#3b7fa3" stroke-width="1.0" />
<circle cx="474" cy="337.20" r="1.7" fill="#3b7fa3"/>
<text x="480.6" y="339.40000000000003" font-size="6.2" fill="#222" textLength="16.9" lengthAdjust="spacingAndGlyphs" stroke="#222" stroke-width="0.14">ID 101</text>
<line x1="470" y1="346.15" x2="478" y2="346.15" stroke="#c8681c" stroke-width="1.0" />
<circle cx="474" cy="346.15" r="1.7" fill="#c8681c"/>
<text x="480.6" y="348.35" font-size="6.2" fill="#222" textLength="16.9" lengthAdjust="spacingAndGlyphs" stroke="#222" stroke-width="0.14">ID 134</text>
<line x1="470" y1="355.09999999999997" x2="478" y2="355.09999999999997" stroke="#d9d9d9" stroke-width="1.0" />
<circle cx="474" cy="355.10" r="1.7" fill="#d9d9d9"/>
<text x="480.6" y="357.3" font-size="6.2" fill="#222" textLength="16.9" lengthAdjust="spacingAndGlyphs" stroke="#222" stroke-width="0.14">ID 139</text>
<line x1="470" y1="364.05" x2="478" y2="364.05" stroke="#f07cc0" stroke-width="1.0" />
<circle cx="474" cy="364.05" r="1.7" fill="#f07cc0"/>
<text x="480.6" y="366.25000000000006" font-size="6.2" fill="#222" textLength="16.9" lengthAdjust="spacingAndGlyphs" stroke="#222" stroke-width="0.14">ID 141</text>
<line x1="470" y1="373.0" x2="478" y2="373.0" stroke="#a3101e" stroke-width="1.0" />
<circle cx="474" cy="373.00" r="1.7" fill="#a3101e"/>
<text x="480.6" y="375.20000000000005" font-size="6.2" fill="#222" textLength="16.9" lengthAdjust="spacingAndGlyphs" stroke="#222" stroke-width="0.14">ID 143</text>
<rect x="287.90" y="427.00" width="197.70" height="54.10" fill="#fff" stroke="#bdbdbd" stroke-width="0.8" />
<rect x="295.80" y="436.90" width="10.30" height="3.80" fill="#6f9892" />
<text x="312.4" y="441.0" font-size="7.05" fill="#1c1c1c" stroke="#1c1c1c" stroke-width="0.14">CTC AE grade 0-1</text>
<rect x="295.80" y="447.50" width="10.30" height="3.80" fill="#e3c170" />
<text x="312.4" y="451.6" font-size="7.05" fill="#1c1c1c" stroke="#1c1c1c" stroke-width="0.14">CTC AE grade 2</text>
<rect x="295.80" y="458.10" width="10.30" height="3.80" fill="#9d4667" />
<text x="312.4" y="462.2" font-size="7.05" fill="#1c1c1c" stroke="#1c1c1c" stroke-width="0.14">CTC AE grade 3-5</text>
<rect x="295.50" y="468.20" width="11.40" height="6.60" fill="#fff" stroke="#86aeaa" stroke-width="0.8" />
<text x="312.4" y="473.5" font-size="7.05" fill="#1c1c1c" textLength="166.5" lengthAdjust="spacingAndGlyphs" stroke="#1c1c1c" stroke-width="0.14">Treatments administered after molecular progression</text>
</svg>
</body></html>
